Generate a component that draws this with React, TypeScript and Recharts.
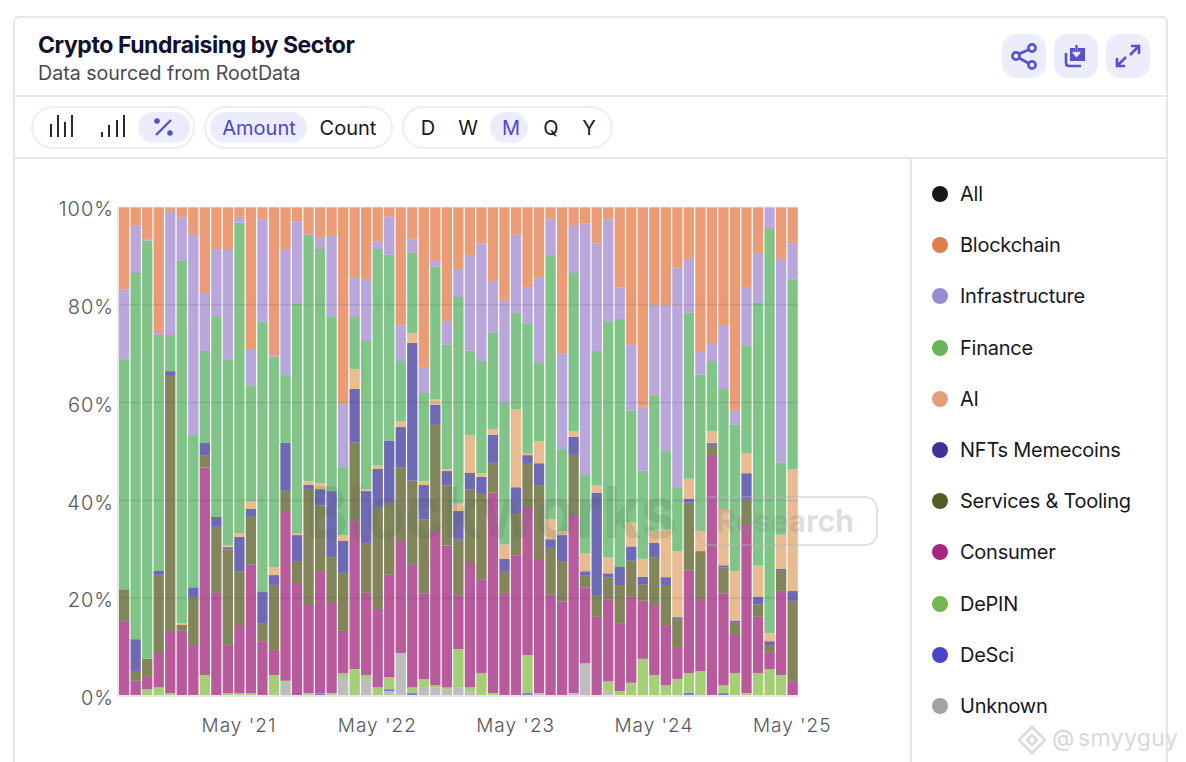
import React from 'react';
import { BarChart, Bar, XAxis, YAxis, ReferenceLine } from 'recharts';

const months = [
  "Jul '20", "Aug '20", "Sep '20", "Oct '20", "Nov '20", "Dec '20", "Jan '21", "Feb '21", "Mar '21", "Apr '21",
  "May '21", "Jun '21", "Jul '21", "Aug '21", "Sep '21", "Oct '21", "Nov '21", "Dec '21", "Jan '22", "Feb '22",
  "Mar '22", "Apr '22", "May '22", "Jun '22", "Jul '22", "Aug '22", "Sep '22", "Oct '22", "Nov '22", "Dec '22",
  "Jan '23", "Feb '23", "Mar '23", "Apr '23", "May '23", "Jun '23", "Jul '23", "Aug '23", "Sep '23", "Oct '23",
  "Nov '23", "Dec '23", "Jan '24", "Feb '24", "Mar '24", "Apr '24", "May '24", "Jun '24", "Jul '24", "Aug '24",
  "Sep '24", "Oct '24", "Nov '24", "Dec '24", "Jan '25", "Feb '25", "Mar '25", "Apr '25", "May '25",
];
const xTicks = ["May '21", "May '22", "May '23", "May '24", "May '25"];
const yTicks = [0, 0.2, 0.4, 0.6, 0.8, 1];

const blockchain = [
  16.8, 3.7, 6.5, 25.8, 0.8, 2.0, 5.7, 17.6, 8.6, 8.6,
  2.0, 29.0, 2.5, 30.3, 8.6, 2.9, 5.3, 6.1, 5.7, 40.1,
  14.3, 14.7, 7.0, 2.0, 24.1, 6.5, 32.7, 11.0, 23.3, 12.7,
  9.8, 7.4, 15.1, 19.2, 5.7, 16.4, 14.3, 2.5, 29.9, 3.7,
  3.3, 7.4, 2.5, 16.4, 28.2, 40.9, 20.0, 20.0, 12.3, 10.6,
  29.4, 27.8, 24.1, 41.7, 16.4, 9.4, 0, 10.6, 7.4,
];
const infrastructure = [
  14.3, 9.8, 0.4, 0.4, 25.4, 9.0, 40.9, 11.9, 13.9, 22.5,
  1.2, 7.4, 20.9, 0.4, 25.8, 16.8, 0.4, 2.5, 16.8, 13.1,
  8.2, 12.7, 1.6, 7.8, 7.4, 2.9, 5.3, 1.2, 4.9, 5.7,
  19.6, 24.1, 10.6, 20.9, 16.0, 7.4, 17.6, 7.4, 19.6, 9.8,
  51.5, 22.1, 20.9, 6.5, 13.5, 13.1, 18.4, 29.9, 45.0, 11.0,
  4.9, 3.7, 13.1, 2.9, 11.9, 10.2, 4.5, 41.7, 7.4,
];
const finance = [
  47.0, 74.8, 85.5, 48.3, 7.4, 74.0, 31.1, 18.8, 40.9, 38.0,
  63.4, 23.7, 55.2, 42.9, 13.9, 47.0, 50.3, 47.9, 35.6, 13.9,
  10.6, 30.3, 44.2, 38.0, 12.3, 16.4, 18.0, 27.0, 25.4, 42.1,
  17.2, 22.9, 19.6, 29.0, 19.6, 26.6, 16.0, 54.0, 16.8, 32.3,
  16.0, 27.4, 48.3, 50.7, 22.9, 18.0, 27.8, 16.0, 13.1, 33.9,
  31.9, 14.3, 24.5, 29.9, 22.1, 53.6, 82.6, 14.7, 38.9,
];
const ai = [
  0, 0, 0, 0, 0, 0.4, 0, 0, 0, 0.4,
  0.8, 1.6, 0, 1.6, 0, 0.4, 0.8, 1.2, 0, 1.2,
  4.1, 0.4, 0.8, 0, 1.2, 2.0, 0.8, 1.2, 0.4, 1.6,
  7.8, 0.8, 1.2, 2.9, 16.0, 0.4, 4.5, 4.1, 0.8, 1.2,
  3.7, 1.6, 3.3, 0, 4.9, 3.7, 2.5, 9.8, 13.5, 4.1,
  4.1, 2.5, 11.5, 10.2, 4.1, 6.5, 1.6, 7.0, 25.0,
];
const nfts = [
  0, 6.5, 0, 0.8, 0.8, 0, 2.0, 2.5, 2.0, 0.4,
  7.0, 1.6, 6.5, 2.0, 9.8, 5.3, 0.8, 3.3, 13.5, 6.5,
  11.0, 10.6, 7.8, 12.7, 8.2, 28.2, 7.0, 4.1, 2.9, 5.7,
  3.3, 3.3, 5.7, 2.5, 5.3, 1.6, 4.5, 1.6, 5.3, 3.7,
  0.8, 20.9, 0.8, 3.7, 2.9, 1.6, 2.9, 1.6, 0.4, 0.8,
  0, 0.4, 0.4, 0.4, 5.3, 1.6, 0.8, 0.4, 2.0,
];
const services = [
  6.5, 2.0, 3.7, 16.0, 52.4, 1.2, 9.8, 2.5, 13.5, 19.6,
  11.0, 9.8, 3.7, 13.5, 4.1, 4.5, 23.7, 13.5, 9.4, 11.9,
  16.0, 10.2, 20.9, 14.7, 15.1, 17.2, 15.1, 21.7, 12.3, 11.5,
  15.1, 17.6, 6.1, 4.5, 8.6, 9.0, 15.1, 9.8, 8.2, 12.3,
  2.5, 4.5, 4.5, 7.8, 7.4, 3.3, 9.8, 8.2, 5.7, 13.9,
  9.8, 2.0, 5.3, 2.5, 5.3, 2.5, 1.6, 4.1, 16.4,
];
const consumer = [
  15.3, 3.1, 2.5, 7.0, 12.7, 13.3, 10.4, 42.5, 20.9, 9.8,
  13.9, 26.2, 11.2, 4.9, 34.8, 23.1, 18.0, 25.0, 18.4, 8.6,
  30.3, 16.8, 16.0, 20.9, 22.9, 25.0, 17.6, 31.5, 29.0, 11.0,
  25.4, 19.2, 40.9, 20.9, 28.8, 30.3, 27.4, 20.7, 19.4, 36.4,
  15.5, 16.0, 16.8, 13.9, 17.6, 11.9, 14.3, 12.3, 6.5, 20.9,
  14.7, 49.3, 18.8, 7.8, 34.4, 11.5, 3.3, 17.2, 3.1,
];
const depin = [
  0, 0, 1.4, 1.8, 0.6, 0, 0, 4.3, 0, 0.6,
  0.6, 0.6, 0, 4.3, 0.4, 0, 0.4, 0, 0.6, 0.8,
  5.5, 0.8, 1.6, 2.5, 0, 1.2, 1.6, 0.4, 0.4, 7.8,
  0.8, 4.7, 0.6, 0.2, 0, 7.8, 0, 0, 0, 0,
  0, 0.2, 2.0, 1.0, 2.7, 7.6, 4.3, 2.2, 3.5, 4.1,
  5.1, 0, 1.6, 4.7, 0.6, 4.7, 5.5, 4.3, 0,
];
const desci = [
  0, 0, 0, 0, 0, 0, 0, 0, 0, 0,
  0, 0, 0, 0, 0, 0, 0.2, 0.5, 0, 0,
  0, 0, 0, 0.4, 0, 0.4, 0, 0, 0, 0,
  0, 0, 0, 0, 0, 0.6, 0, 0, 0, 0,
  0, 0, 0, 0, 0, 0, 0, 0, 0, 0.6,
  0, 0, 0.6, 0, 0, 0, 0, 0, 0,
];
const unknown = [
  0, 0, 0, 0, 0, 0, 0, 0, 0.2, 0,
  0, 0, 0, 0, 2.7, 0, 0, 0, 0, 3.9,
  0, 3.5, 0.2, 1.0, 8.8, 0.2, 1.8, 1.8, 1.4, 1.8,
  1.0, 0, 0, 0, 0, 0, 0.6, 0, 0, 0.6,
  6.7, 0, 1.0, 0, 0, 0, 0, 0, 0, 0,
  0, 0, 0, 0, 0, 0, 0, 0, 0,
];

const chartData = months.map((month, i) => ({
  month,
  Unknown: unknown[i],
  DeSci: desci[i],
  DePIN: depin[i],
  Consumer: consumer[i],
  'Services & Tooling': services[i],
  'NFTs Memecoins': nfts[i],
  AI: ai[i],
  Finance: finance[i],
  Infrastructure: infrastructure[i],
  Blockchain: blockchain[i],
}));

const legendNames = ['All', 'Blockchain', 'Infrastructure', 'Finance', 'AI', 'NFTs Memecoins', 'Services & Tooling', 'Consumer', 'DePIN', 'DeSci', 'Unknown'];
const legendColors = ['#171717', '#E27D4F', '#9C8AD2', '#6AB55A', '#E59F78', '#3B3399', '#555A22', '#A3277F', '#74B555', '#4A45C6', '#A3A3A3'];
// stack order, bottom first
const stackNames = ['Unknown', 'DeSci', 'DePIN', 'Consumer', 'Services & Tooling', 'NFTs Memecoins', 'AI', 'Finance', 'Infrastructure', 'Blockchain'];
const stackColors = ['#A7A7A7', '#514BCB', '#88BE49', '#A0237A', '#585B23', '#3D379B', '#E0A66B', '#55B060', '#A188CF', '#E47948'];

const UI = 'Inter, sans-serif';
const INDIGO = '#5A50CE';
const CHIP = '#ECECFC';
const LINE = '#E6E6EC';

const at = (left: number, top: number, width: number, height: number): React.CSSProperties => ({
  position: 'absolute', left, top, width, height,
});

const Pill = ({ x, w }: { x: number; w: number }) => (
  <div style={{ ...at(x, 106, w, 43), boxSizing: 'border-box', border: '2px solid #EDEDFA', borderRadius: 22 }} />
);
const Chip = ({ x, w }: { x: number; w: number }) => (
  <div style={{ ...at(x, 112, w, 31), background: CHIP, borderRadius: 16 }} />
);
const ToolText = ({ cx, label, active }: { cx: number; label: string; active?: boolean }) => (
  <div style={{ ...at(cx - 50, 113, 100, 30), textAlign: 'center', fontSize: 20, lineHeight: '30px', color: active ? '#4F46C8' : '#17171C' }}>{label}</div>
);

const Toolbar = () => (
  <>
    <Pill x={31} w={164} />
    <Pill x={204} w={189} />
    <Pill x={402} w={211} />
    <Chip x={138} w={52} />
    <Chip x={210} w={97} />
    <Chip x={490} w={38} />
    <svg style={at(40, 112, 150, 32)} viewBox="0 0 150 32">
      <g stroke="#2A2A2A" strokeWidth="2" fill="none">
        <path d="M11 25V12M18 25V3M25 25V10M32 25V3" />
        <path d="M62 25V20M69 25V13M77 25V8M84 25V3" />
      </g>
      <g stroke={INDIGO} strokeWidth="2.4" fill={INDIGO}>
        <path d="M116 23L131 8" fill="none" />
        <circle cx="117" cy="9" r="1.6" />
        <circle cx="130" cy="21" r="1.6" />
      </g>
    </svg>
    <ToolText cx={259} label="Amount" active />
    <ToolText cx={348} label="Count" />
    <ToolText cx={428} label="D" />
    <ToolText cx={468} label="W" />
    <ToolText cx={511} label="M" active />
    <ToolText cx={551} label="Q" />
    <ToolText cx={589} label="Y" />
  </>
);

const HeaderButtons = () => (
  <>
    {[1002, 1054, 1106].map((x) => (
      <div key={x} style={{ ...at(x, 34, 44, 44), background: CHIP, borderRadius: 14 }} />
    ))}
    <svg style={at(1002, 34, 44, 44)} viewBox="0 0 44 44" fill="none" stroke={INDIGO} strokeWidth="2.6">
      <circle cx="30" cy="14" r="3.6" />
      <circle cx="14" cy="22" r="3.6" />
      <circle cx="30" cy="31" r="3.6" />
      <path d="M17 20L27 15.5M17 24L27 29.5" />
    </svg>
    <svg style={at(1054, 34, 44, 44)} viewBox="0 0 44 44">
      <path d="M16 14H21V19H24V14H31V27H16Z" fill={INDIGO} />
      <path d="M22.5 11V21M19 18L22.5 22L26 18" stroke="#ECECFC" strokeWidth="2" fill="none" />
      <path d="M22.5 11V18" stroke={INDIGO} strokeWidth="2.4" />
      <path d="M12 19V29Q12 32 15 32H27" stroke={INDIGO} strokeWidth="2.6" fill="none" />
    </svg>
    <svg style={at(1106, 34, 44, 44)} viewBox="0 0 44 44" fill="none" stroke={INDIGO} strokeWidth="2.6">
      <path d="M25 12H33V20M33 12L24 21" />
      <path d="M11 24V32H19M11 32L20 23" />
    </svg>
  </>
);

const Legend = () => (
  <>
    {legendNames.map((name, i) => {
      const y = 194 + i * 51.2;
      return (
        <React.Fragment key={name}>
          <div style={{ ...at(932, y - 8, 16, 16), borderRadius: 8, background: legendColors[i] }} />
          <div style={{ ...at(960, y - 15, 200, 30), fontSize: 20, lineHeight: '30px', letterSpacing: -0.25, color: '#17171C', whiteSpace: 'nowrap' }}>{name}</div>
        </React.Fragment>
      );
    })}
  </>
);

const Watermark = () => (
  <svg style={{ ...at(0, 0, 1186, 762), pointerEvents: 'none' }} viewBox="0 0 1186 762">
    <text x={305} y={538} fontFamily={UI} fontWeight={700} fontSize={72} textLength={372} lengthAdjust="spacingAndGlyphs" fill="#4A6A4A" fillOpacity={0.16}>
      Blockworks
    </text>
    <rect x={698} y={497} width={179} height={48} rx={12} fill="none" stroke="#B4B4B4" strokeOpacity={0.4} strokeWidth={2} />
    <text x={716} y={532} fontFamily={UI} fontWeight={700} fontSize={31} textLength={138} lengthAdjust="spacingAndGlyphs" fill="#8A8A8A" fillOpacity={0.28}>
      Research
    </text>
    <g fill="none" stroke="#DADADA" strokeWidth={2.5}>
      <path d="M1032 727L1045 740L1032 753L1019 740Z" />
      <path d="M1032 735L1037 740L1032 745L1027 740Z" />
    </g>
    <text x={1052} y={746} fontFamily={UI} fontSize={23} fill="#D4D4D4">@</text>
    <text x={1078} y={746} fontFamily={UI} fontSize={23} textLength={100} fill="#D9D9D9">smyyguy</text>
  </svg>
);

export default function App() {
  return (
    <div style={{ ...at(0, 0, 1186, 762), position: 'fixed', overflow: 'hidden', background: '#fff', fontFamily: UI }}>
      {/* card frame, runs off the bottom of the page */}
      <div style={{ ...at(13, 16, 1155, 780), boxSizing: 'border-box', border: `2px solid ${LINE}`, borderRadius: 6 }} />
      <div style={{ ...at(13, 95, 1155, 2), background: LINE }} />
      <div style={{ ...at(13, 157, 1155, 2), background: LINE }} />
      <div style={{ ...at(910, 158, 2, 610), background: LINE }} />

      <div style={{ ...at(38, 29, 500, 32), fontSize: 23, fontWeight: 700, lineHeight: '32px', letterSpacing: -0.42, color: '#12102E' }}>
        Crypto Fundraising by Sector
      </div>
      <div style={{ ...at(38, 60, 500, 26), fontSize: 19.6, lineHeight: '26px', color: '#4A4A50' }}>Data sourced from RootData</div>

      <HeaderButtons />
      <Toolbar />
      <Legend />

      <div style={at(0, 190, 880, 572)}>
        <BarChart width={880} height={572} data={chartData} stackOffset="expand" barSize={10.3} margin={{ top: 17, right: 82, bottom: 26, left: 0 }}>
          <XAxis
            dataKey="month"
            interval={0}
            ticks={xTicks}
            height={40}
            tickLine={false}
            axisLine={{ stroke: LINE, strokeWidth: 2 }}
            tickMargin={17}
            tick={{ fill: '#55555C', fontSize: 19, fontWeight: 300, fontFamily: UI, letterSpacing: 1 }}
          />
          <YAxis
            width={118}
            domain={[0, 1]}
            ticks={yTicks}
            tickFormatter={(v: number) => `${Math.round(v * 100)}%`}
            tickLine={false}
            axisLine={{ stroke: LINE, strokeWidth: 2 }}
            tickMargin={-2}
            tick={{ fill: '#55555C', fontSize: 20, fontWeight: 300, fontFamily: UI, letterSpacing: 1, dy: 2 }}
          />
          {stackNames.map((name, i) => (
            <Bar
              key={name}
              dataKey={name}
              stackId="sector"
              fill={stackColors[i]}
              fillOpacity={0.75}
              isAnimationActive={false}
            />
          ))}
          {yTicks.slice(1, 5).map((v) => (
            <ReferenceLine key={v} y={v} stroke="#4A4A50" strokeOpacity={0.12} strokeWidth={2} />
          ))}
          <ReferenceLine y={1} stroke={LINE} strokeWidth={1} />
        </BarChart>
      </div>

      <Watermark />
    </div>
  );
}
